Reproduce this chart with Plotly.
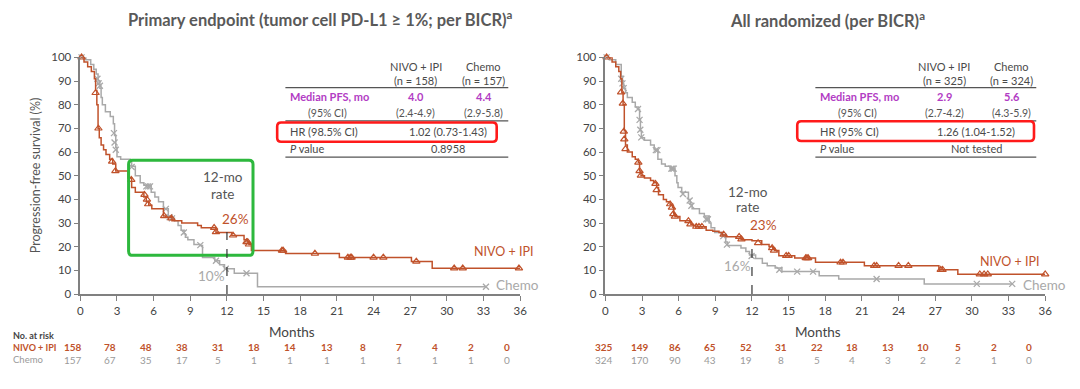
import plotly.graph_objects as go

# page body keeps its default 8px margin, so the figure is 16px smaller than the window
W, H = 1064, 373
OFF = 8
# measured vertical mapping of the page (design px -> seen px): seen = VS * design + VO
VS, VO = 0.954, 8.8
FONT = "Lato"
NIVO_C = "#C0522B"
CHEMO_C = "#A9A9A9"
MAG = "#B23CC4"
TXT = "#4a4a4a"

# ---------------- data: left panel (PD-L1 >= 1%) ----------------
L_nivo_t = [0, 0.3, 0.6, 0.9, 1.15, 1.25, 1.35, 1.45, 1.55, 1.7, 1.9, 2.1, 2.4, 2.65, 2.9, 3.9, 4.2, 4.5, 5.2, 5.4, 5.6, 5.85, 6.8, 7.0, 7.5, 8.3, 9.6, 9.9, 11.1, 12.4, 13.4, 13.65, 13.8, 14.0, 16.8, 21.2, 27.1, 28.8, 36]
L_nivo_s = [100, 98, 96, 94, 91, 86, 80, 70, 66, 63, 61, 59, 57, 55, 52, 49, 45, 43, 41, 39, 37.5, 36, 33, 32.5, 31, 30, 29, 28, 26, 24.8, 23, 22, 21, 18.4, 17.1, 15.5, 13.8, 10.9, 10.9]
L_nivo_cens_t = [0.1, 1.25, 1.48, 2.6, 2.87, 4.17, 5.25, 5.45, 5.55, 6.86, 7.45, 10.95, 11.1, 12.5, 13.6, 13.7, 13.8, 16.5, 16.6, 19.2, 21.9, 22.1, 22.2, 24.0, 24.8, 27.5, 30.6, 31.3, 35.9]
L_nivo_cens_s = [100, 85, 70, 56, 52, 48.3, 42, 40, 38, 33, 32, 28, 26.2, 24.8, 22, 22, 21, 18.4, 18.4, 17.1, 15.5, 15.5, 15.5, 15.5, 15.5, 13.8, 10.9, 10.9, 10.9]

L_chemo_t = [0, 0.45, 0.85, 1.1, 1.3, 1.45, 1.6, 1.7, 1.8, 2.05, 2.45, 2.7, 2.8, 2.9, 3.0, 3.3, 4.1, 4.2, 4.5, 4.9, 5.2, 5.8, 6.1, 6.4, 6.8, 7.2, 7.5, 7.7, 8.0, 8.25, 8.5, 8.6, 8.8, 9.3, 9.8, 10.0, 11.0, 11.4, 11.8, 12.6, 14.5, 33.2]
L_chemo_s = [100, 99, 97, 95, 93, 90, 87, 83, 80, 77, 75, 72, 67, 62, 58, 57, 56, 54, 50, 47, 46, 43, 41, 39, 36, 33, 32, 31, 29, 27, 25.5, 24, 23, 21, 20.5, 15.5, 14.1, 12.4, 10.7, 8.8, 3.1, 3.1]
L_chemo_cens_t = [0.1, 1.4, 1.5, 1.6, 2.75, 2.8, 2.9, 4.2, 5.4, 5.55, 5.7, 7.0, 7.3, 7.5, 8.47, 9.82, 11.1, 11.9, 13.6, 33.2]
L_chemo_cens_s = [100, 91, 89, 88, 68, 64, 61, 53.7, 45.5, 45.5, 45.5, 36, 32.5, 32, 26, 20.7, 14.1, 10.7, 8.8, 3.1]

# ---------------- data: right panel (all randomized) ----------------
R_nivo_t = [0, 0.55, 0.85, 1.1, 1.25, 1.35, 1.45, 1.55, 1.65, 1.8, 2.2, 2.45, 2.7, 2.8, 2.92, 3.2, 3.7, 3.95, 4.2, 4.35, 4.75, 5.0, 5.3, 5.5, 5.6, 5.7, 6.1, 6.9, 7.0, 7.2, 7.4, 8.25, 8.8, 9.3, 9.6, 9.9, 11.1, 11.2, 12.0, 12.8, 13.4, 13.7, 13.85, 14.2, 15.5, 17.2, 21.2, 27.3, 28.85, 36]
R_nivo_s = [100, 98, 96, 94, 91, 85, 80, 69, 63, 60, 58, 57, 55.6, 52, 50, 49, 48, 47, 45, 42, 40, 39, 38, 36.6, 34, 32.8, 31, 30.5, 29.5, 29, 28.5, 27, 26.5, 26, 25, 24.2, 23.2, 23, 22.5, 21, 20, 19.5, 18.4, 16.2, 15.2, 13.4, 12.0, 10.3, 8.4, 8.4]
R_nivo_cens_t = [0.1, 1.29, 1.43, 1.51, 1.55, 1.65, 2.7, 2.8, 2.91, 4.1, 4.2, 5.3, 5.45, 5.56, 5.69, 6.8, 6.96, 7.44, 7.66, 7.9, 9.68, 10.95, 11.14, 12.5, 13.65, 13.8, 14.8, 15.0, 16.4, 16.5, 16.6, 19.25, 19.45, 22.0, 22.2, 24.0, 24.8, 27.45, 27.6, 30.65, 31.0, 31.3, 36.0]
R_nivo_cens_s = [100, 85.3, 80.5, 68.7, 65.4, 61.3, 55.6, 52, 50.1, 46.6, 44, 38, 36.6, 33.8, 32.8, 30.9, 29.5, 28.5, 28.5, 28.5, 25.2, 24.2, 23.2, 21.6, 19.5, 18.4, 16.2, 16.2, 15.2, 15.2, 15.2, 13.4, 13.4, 12, 12, 12, 12, 10.3, 10.3, 8.4, 8.4, 8.4, 8.4]

R_chemo_t = [0, 0.4, 0.85, 1.3, 1.4, 1.5, 1.65, 1.8, 2.2, 2.45, 2.7, 2.8, 2.87, 2.95, 3.2, 3.7, 4.0, 4.3, 4.6, 4.9, 5.3, 5.7, 5.85, 5.95, 6.25, 6.8, 6.95, 7.1, 7.7, 8.1, 8.5, 8.65, 8.95, 9.5, 9.85, 10.0, 11.1, 11.5, 11.8, 12.3, 12.85, 13.25, 13.9, 14.45, 17.5, 19.1, 26.1, 33.3]
R_chemo_s = [100, 99, 97, 92, 89, 87, 85, 83, 81, 79, 78, 74, 69, 66, 65, 63, 61, 57, 55, 54, 53, 50, 47, 45, 43, 40, 38, 36, 34, 33, 30, 28, 26, 25, 22, 20.5, 19.5, 18, 16.5, 15, 13, 12, 11, 9.5, 7.8, 6.4, 4.3, 4.3]
R_chemo_cens_t = [0.1, 1.3, 1.4, 1.5, 2.67, 2.8, 2.86, 2.94, 4.13, 4.26, 5.4, 5.5, 5.6, 6.35, 6.9, 7.04, 8.25, 8.39, 9.65, 9.95, 11.97, 14.24, 15.7, 17.0, 22.2, 30.4, 33.3]
R_chemo_cens_s = [100, 91, 89, 87, 78.2, 73.6, 69.4, 66.2, 60.8, 60.8, 53, 53, 53, 42.3, 39.5, 37.3, 31.6, 31.6, 24.5, 20.9, 16.1, 10.3, 9.5, 9.5, 6.4, 4.3, 4.3]

# ---------------- at-risk tables ----------------
risk_months = [0, 3, 6, 9, 12, 15, 18, 21, 24, 27, 30, 33, 36]
L_risk_nivo = [158, 78, 48, 38, 31, 18, 14, 13, 8, 7, 4, 2, 0]
L_risk_chemo = [157, 67, 35, 17, 5, 1, 1, 1, 1, 1, 1, 1, 0]
R_risk_nivo = [325, 149, 86, 65, 52, 31, 22, 18, 13, 10, 5, 2, 0]
R_risk_chemo = [324, 170, 90, 43, 19, 8, 5, 4, 3, 2, 2, 1, 0]

# ---------------- summary tables ----------------
L_table = dict(n_nivo="(n = 158)", n_chemo="(n = 157)", med_nivo="4.0", med_chemo="4.4",
               ci_nivo="(2.4-4.9)", ci_chemo="(2.9-5.8)", hr_lab="HR (98.5% CI)",
               hr="1.02 (0.73-1.43)", p="0.8958")
R_table = dict(n_nivo="(n = 325)", n_chemo="(n = 324)", med_nivo="2.9", med_chemo="5.6",
               ci_nivo="(2.7-4.2)", ci_chemo="(4.3-5.9)", hr_lab="HR (95% CI)",
               hr="1.26 (1.04-1.52)", p="Not tested")
rates = dict(L_nivo="26%", L_chemo="10%", R_nivo="23%", R_chemo="16%")


def px(x):
    return (x - OFF) / W


def py(y):
    yd = (y - VO) / VS
    return 1 - (yd - OFF) / H


fig = go.Figure()


def add_km(t, s, ct, cs, color, symbol, xa, ya, msize, mlw):
    fig.add_trace(go.Scatter(x=t, y=s, mode="lines", line=dict(color=color, width=1.5, shape="hv"),
                             xaxis=xa, yaxis=ya, showlegend=False, hoverinfo="skip", cliponaxis=False))
    fig.add_trace(go.Scatter(x=ct, y=cs, mode="markers",
                             marker=dict(symbol=symbol, size=msize, color=color, line=dict(color=color, width=mlw)),
                             xaxis=xa, yaxis=ya, showlegend=False, hoverinfo="skip", cliponaxis=False))


add_km(L_chemo_t, L_chemo_s, L_chemo_cens_t, L_chemo_cens_s, CHEMO_C, "x-thin-open", "x", "y", 6, 1.3)
add_km(L_nivo_t, L_nivo_s, L_nivo_cens_t, L_nivo_cens_s, NIVO_C, "triangle-up-open", "x", "y", 6.5, 1.2)
add_km(R_chemo_t, R_chemo_s, R_chemo_cens_t, R_chemo_cens_s, CHEMO_C, "x-thin-open", "x2", "y2", 6, 1.3)
add_km(R_nivo_t, R_nivo_s, R_nivo_cens_t, R_nivo_cens_s, NIVO_C, "triangle-up-open", "x2", "y2", 6.5, 1.2)

ax_common = dict(showgrid=False, zeroline=False, showline=True, linecolor="#808080", linewidth=1.5,
                 ticks="outside", ticklen=5, tickcolor="#808080", tickwidth=1.2,
                 tickfont=dict(family=FONT, size=11.5, color="#444"))
ydom = [py(292.3), py(58.3)]
fig.update_layout(
    xaxis=dict(domain=[px(78), px(522)], range=[0, 36], tickvals=risk_months, anchor="y", **ax_common),
    yaxis=dict(domain=ydom, range=[0, 100], tickvals=list(range(0, 101, 10)), anchor="x", **ax_common),
    xaxis2=dict(domain=[px(608), px(1052)], range=[0, 36], tickvals=risk_months, anchor="y2", **ax_common),
    yaxis2=dict(domain=ydom, range=[0, 100], tickvals=list(range(0, 101, 10)), anchor="x2", **ax_common),
)

ann = []
shapes = []


def text(x, y, s, size=11, color=TXT, xanchor="center", bold=False, angle=0):
    if bold:
        s = "<b>" + s + "</b>"
    ann.append(dict(x=px(x), y=py(y), xref="paper", yref="paper", text=s, showarrow=False,
                    xanchor=xanchor, yanchor="middle", textangle=angle,
                    font=dict(family=FONT, size=size, color=color)))


def hline(x0, x1, y, color="#555", width=1.2):
    shapes.append(dict(type="line", xref="paper", yref="paper", x0=px(x0), x1=px(x1), y0=py(y), y1=py(y),
                       line=dict(color=color, width=width)))


def rrect(x0, y0, x1, y1, r, color, width):
    pts = [("M", (x0 + r, y0)), ("L", (x1 - r, y0)), ("Q", (x1, y0), (x1, y0 + r)),
           ("L", (x1, y1 - r)), ("Q", (x1, y1), (x1 - r, y1)), ("L", (x0 + r, y1)),
           ("Q", (x0, y1), (x0, y1 - r)), ("L", (x0, y0 + r)), ("Q", (x0, y0), (x0 + r, y0))]
    path = ""
    for p in pts:
        coords = " ".join(f"{px(a):.5f},{py(b):.5f}" for a, b in p[1:])
        path += f"{p[0]} {coords} "
    path += "Z"
    shapes.append(dict(type="path", xref="paper", yref="paper", path=path, line=dict(color=color, width=width)))


# titles
text(320, 20, "Primary endpoint (tumor cell PD-L1 ≥ 1%; per BICR)<sup>a</sup>", size=16.5, color="#595959", bold=True)
text(832, 21, "All randomized (per BICR)<sup>a</sup>", size=16.5, color="#595959", bold=True)

# y axis title
text(33, 175, "Progression-free survival (%)", size=12.5, color="#555", angle=-90)

# summary tables
for tb, xl, xn, xc, xhr, lx0, lx1, box in [
    (L_table, 288, 416.7, 485, 449, 285, 510, (276.7, 122.7, 498.3, 141.7)),
    (R_table, 822.5, 950, 1018, 981.7, 820, 1043, (801.7, 121.5, 1040.7, 141)),
]:
    text(xn, 67, "NIVO + IPI", size=11)
    text(xn, 80.7, tb["n_nivo"], size=11)
    text(xc, 67, "Chemo", size=11)
    text(xc, 80.7, tb["n_chemo"], size=11)
    hline(lx0, lx1, 88.3)
    text(xl, 97, "Median PFS, mo", size=11, color=MAG, xanchor="left", bold=True)
    text(xn, 97, tb["med_nivo"], size=11, color=MAG, bold=True)
    text(xc, 97, tb["med_chemo"], size=11, color=MAG, bold=True)
    text(xl + 40, 113.3, "(95% CI)", size=10.5, color="#555")
    text(xn, 113.3, tb["ci_nivo"], size=10.5, color="#555")
    text(xc, 113.3, tb["ci_chemo"], size=10.5, color="#555")
    hline(lx0, lx1, 121)
    text(xl, 131.5, tb["hr_lab"], size=11, xanchor="left")
    text(xhr, 131.5, tb["hr"], size=11)
    text(xl, 148, "<i>P</i> value", size=11, xanchor="left")
    text(xhr + 1, 148, tb["p"], size=11)
    hline(lx0, lx1, 157)
    rrect(*box, 4, "#FF1A1A", 2.6)

# green highlight box (left)
rrect(126.7, 160, 252.3, 254, 4, "#2DB83D", 3)

# 12-month annotations
text(222, 177, "12-mo", size=13.5, color="#555")
text(222, 193, "rate", size=13.5, color="#555")
text(235, 218, rates["L_nivo"], size=13.5, color=NIVO_C)
text(210, 274, rates["L_chemo"], size=13.5, color=CHEMO_C)
text(751.7, 191.7, "12-mo", size=13.5, color="#555")
text(751.7, 206.7, "rate", size=13.5, color="#555")
text(768, 224, rates["R_nivo"], size=13.5, color=NIVO_C)
text(741, 265, rates["R_chemo"], size=13.5, color=CHEMO_C)

shapes.append(dict(type="line", xref="x", yref="y", x0=12, x1=12, y0=0, y1=26.2,
                   line=dict(color="#333", width=1.2, dash="dash")))
shapes.append(dict(type="line", xref="x2", yref="y2", x0=12, x1=12, y0=0, y1=22.5,
                   line=dict(color="#333", width=1.2, dash="dash")))

# curve labels
text(537, 250, "NIVO + IPI", size=12.5, color=NIVO_C, xanchor="right")
text(496, 283.5, "Chemo", size=13.5, color=CHEMO_C, xanchor="left")
text(1048, 260, "NIVO + IPI", size=12.5, color=NIVO_C, xanchor="right")
text(1028, 283.5, "Chemo", size=13.5, color=CHEMO_C, xanchor="left")

# x axis titles
text(292, 330, "Months", size=13.5, color="#444")
text(823, 330, "Months", size=13.5, color="#444")

# at-risk
text(8.5, 333, "No. at risk", size=9, color="#444", xanchor="left", bold=True)
text(8.5, 345, "NIVO + IPI", size=9, color=NIVO_C, xanchor="left", bold=True)
text(8.5, 357.3, "Chemo", size=9.5, color="#9a9a9a", xanchor="left")
for i, m in enumerate(risk_months):
    xl = 71 + m * (438 / 36)
    xr = 606.7 + m * (429.3 / 36)
    text(xl, 345, str(L_risk_nivo[i]), size=10, color=NIVO_C, bold=True)
    text(xl, 357.3, str(L_risk_chemo[i]), size=10, color="#9a9a9a")
    text(xr, 345, str(R_risk_nivo[i]), size=10, color=NIVO_C, bold=True)
    text(xr, 357.3, str(R_risk_chemo[i]), size=10, color="#9a9a9a")

fig.update_layout(width=W, height=H, margin=dict(l=0, r=0, t=0, b=0), paper_bgcolor="white",
                  plot_bgcolor="white", annotations=ann, shapes=shapes, showlegend=False,
                  font=dict(family=FONT))

fig.write_html("out.html", config={"displayModeBar": False})
